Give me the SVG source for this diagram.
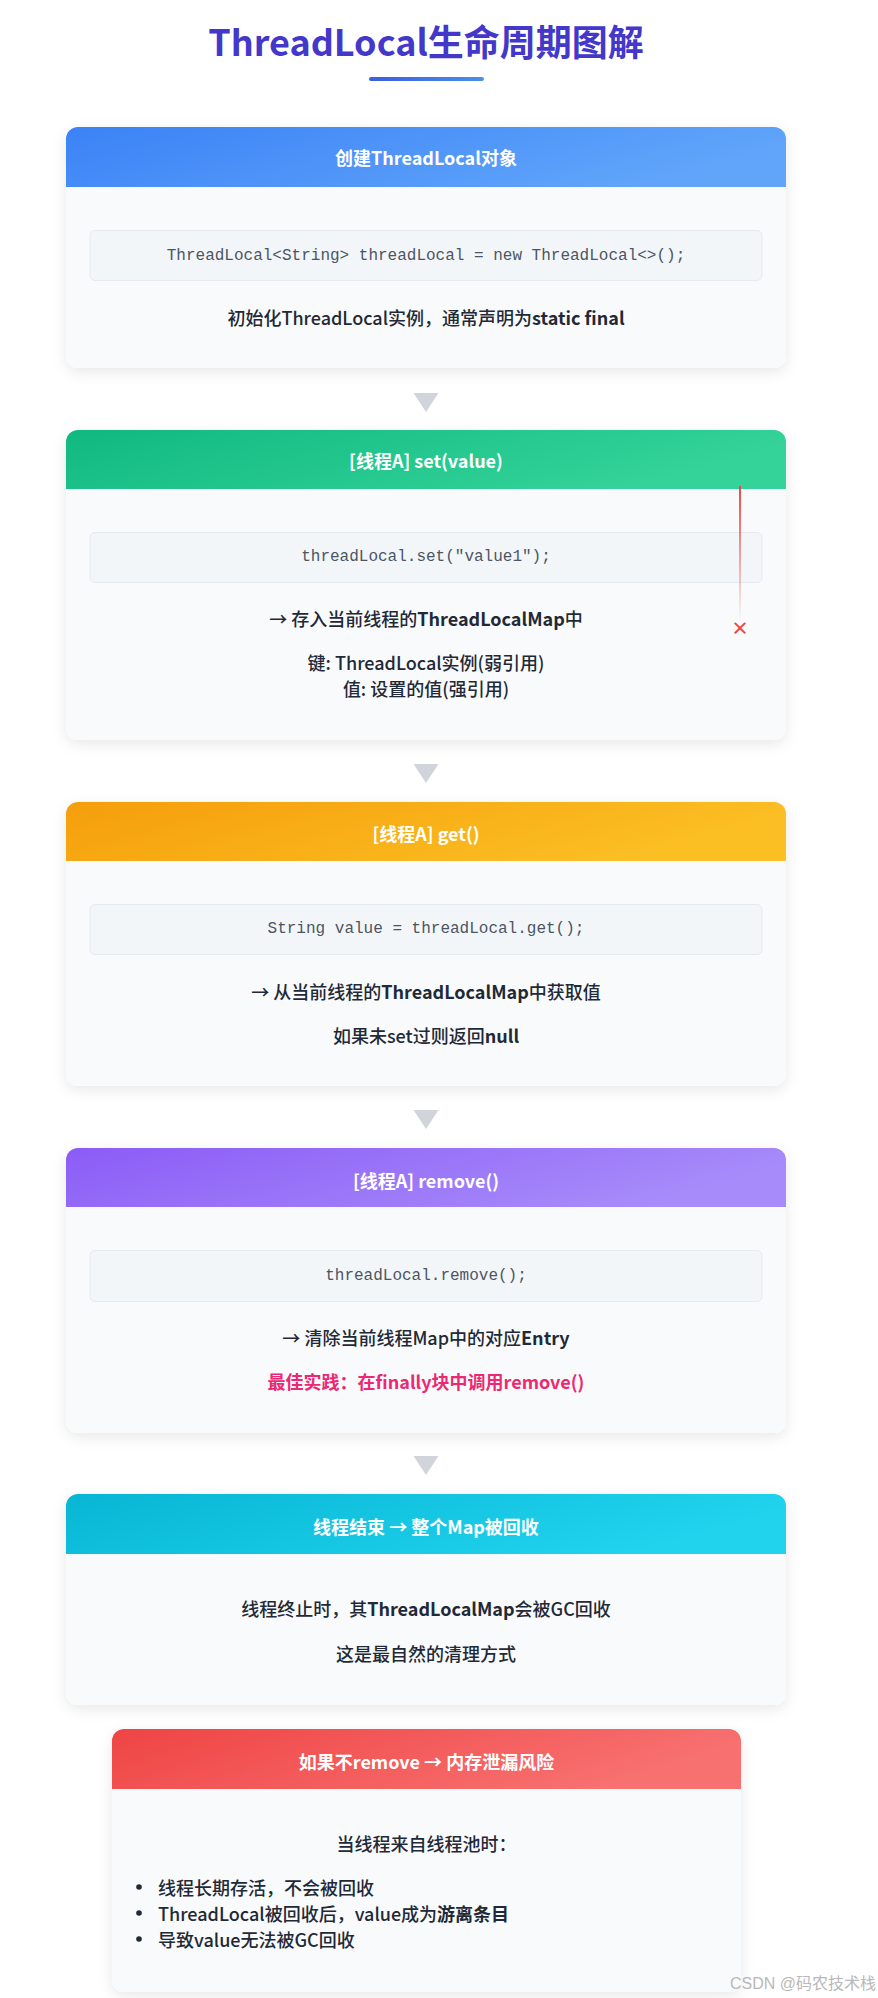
<svg xmlns="http://www.w3.org/2000/svg" width="878" height="1998" viewBox="0 0 878 1998">
<style>
.t{font-family:"Noto Sans CJK SC","Noto Sans",sans-serif;}
.title{font-size:36px;font-weight:700;fill:#4338ca;}
.hd{font-size:18px;font-weight:700;fill:#ffffff;}
.tx{font-size:18px;font-weight:500;fill:#1f2937;}
.b{font-weight:700;}
.code{font-family:"Liberation Mono","Courier New",monospace;font-size:16px;fill:#4b5563;}
.body{fill:#f9fafb;}
.cbox{fill:#f3f6f9;stroke:#e5eaf1;stroke-width:1;}
.arrow{fill:#d1d5db;}
.pink{fill:#ec2873;font-weight:700;}
.wm{font-family:"Liberation Sans","Noto Sans CJK SC",sans-serif;font-size:16px;fill:#b8b8b8;}
</style>
<defs>
<filter id="sh" x="-10%" y="-10%" width="120%" height="130%">
<feDropShadow dx="0" dy="4" stdDeviation="7" flood-color="#000000" flood-opacity="0.09"/>
</filter>
<linearGradient id="gTitle" x1="0" y1="0" x2="1" y2="0"><stop offset="0" stop-color="#3b5de0"/><stop offset="1" stop-color="#4a90e8"/></linearGradient>
<linearGradient id="g1" x1="0" y1="0" x2="1" y2="0.3"><stop offset="0" stop-color="#3b82f6"/><stop offset="1" stop-color="#60a5fa"/></linearGradient>
<linearGradient id="g2" x1="0" y1="0" x2="1" y2="0.3"><stop offset="0" stop-color="#10b981"/><stop offset="1" stop-color="#34d399"/></linearGradient>
<linearGradient id="g3" x1="0" y1="0" x2="1" y2="0.3"><stop offset="0" stop-color="#f59e0b"/><stop offset="1" stop-color="#fbbf24"/></linearGradient>
<linearGradient id="g4" x1="0" y1="0" x2="1" y2="0.3"><stop offset="0" stop-color="#8b5cf6"/><stop offset="1" stop-color="#a78bfa"/></linearGradient>
<linearGradient id="g5" x1="0" y1="0" x2="1" y2="0.3"><stop offset="0" stop-color="#06b6d4"/><stop offset="1" stop-color="#22d3ee"/></linearGradient>
<linearGradient id="g6" x1="0" y1="0" x2="1" y2="0.3"><stop offset="0" stop-color="#ef4444"/><stop offset="1" stop-color="#f87171"/></linearGradient>
<linearGradient id="gRed" x1="0" y1="0" x2="0" y2="1"><stop offset="0" stop-color="#ef4444"/><stop offset="1" stop-color="#ef4444" stop-opacity="0"/></linearGradient>
</defs>
<rect width="878" height="1998" fill="#ffffff"/>

<g id="title">
<text class="t title" x="426" y="56" text-anchor="middle">ThreadLocal生命周期图解</text>
<rect x="369" y="77" width="115" height="4" rx="2" fill="url(#gTitle)"/>
</g>

<g id="node-create">
<rect class="body" x="66" y="127" width="720" height="241" rx="12" filter="url(#sh)"/>
<path d="M66,187 V139 A12,12 0 0 1 78,127 H774 A12,12 0 0 1 786,139 V187 Z" fill="url(#g1)"/>
<text class="t hd" x="426" y="157" text-anchor="middle" dominant-baseline="central">创建ThreadLocal对象</text>
<rect class="cbox" x="90" y="230.5" width="672" height="50" rx="5"/>
<text class="code" x="426" y="256" text-anchor="middle" dominant-baseline="central">ThreadLocal&lt;String&gt; threadLocal = new ThreadLocal&lt;&gt;();</text>
<text class="t tx" x="426" y="317" text-anchor="middle" dominant-baseline="central">初始化ThreadLocal实例，通常声明为<tspan class="b">static final</tspan></text>
</g>

<g id="node-set">
<rect class="body" x="66" y="430" width="720" height="310" rx="12" filter="url(#sh)"/>
<path d="M66,489 V442 A12,12 0 0 1 78,430 H774 A12,12 0 0 1 786,442 V489 Z" fill="url(#g2)"/>
<text class="t hd" x="426" y="460" text-anchor="middle" dominant-baseline="central">[线程A] set(value)</text>
<rect class="cbox" x="90" y="532.5" width="672" height="50" rx="5"/>
<text class="code" x="426" y="557" text-anchor="middle" dominant-baseline="central">threadLocal.set("value1");</text>
<text class="t tx" x="426" y="618" text-anchor="middle" dominant-baseline="central">→ 存入当前线程的<tspan class="b">ThreadLocalMap</tspan>中</text>
<text class="t tx" x="426" y="662" text-anchor="middle" dominant-baseline="central">键: ThreadLocal实例(弱引用)</text>
<text class="t tx" x="426" y="688" text-anchor="middle" dominant-baseline="central">值: 设置的值(强引用)</text>
<rect x="739" y="486" width="2" height="136" fill="url(#gRed)"/>
<text class="t" x="740" y="627" text-anchor="middle" dominant-baseline="central" font-size="18" font-weight="700" fill="#ef4444">×</text>
</g>

<g id="node-get">
<rect class="body" x="66" y="802" width="720" height="284" rx="12" filter="url(#sh)"/>
<path d="M66,861 V814 A12,12 0 0 1 78,802 H774 A12,12 0 0 1 786,814 V861 Z" fill="url(#g3)"/>
<text class="t hd" x="426" y="833" text-anchor="middle" dominant-baseline="central">[线程A] get()</text>
<rect class="cbox" x="90" y="904.5" width="672" height="50" rx="5"/>
<text class="code" x="426" y="929" text-anchor="middle" dominant-baseline="central">String value = threadLocal.get();</text>
<text class="t tx" x="426" y="991" text-anchor="middle" dominant-baseline="central">→ 从当前线程的<tspan class="b">ThreadLocalMap</tspan>中获取值</text>
<text class="t tx" x="426" y="1035" text-anchor="middle" dominant-baseline="central">如果未set过则返回<tspan class="b">null</tspan></text>
</g>

<g id="node-remove">
<rect class="body" x="66" y="1148" width="720" height="285" rx="12" filter="url(#sh)"/>
<path d="M66,1207 V1160 A12,12 0 0 1 78,1148 H774 A12,12 0 0 1 786,1160 V1207 Z" fill="url(#g4)"/>
<text class="t hd" x="426" y="1180" text-anchor="middle" dominant-baseline="central">[线程A] remove()</text>
<rect class="cbox" x="90" y="1250.5" width="672" height="51" rx="5"/>
<text class="code" x="426" y="1276" text-anchor="middle" dominant-baseline="central">threadLocal.remove();</text>
<text class="t tx" x="426" y="1337" text-anchor="middle" dominant-baseline="central">→ 清除当前线程Map中的对应<tspan class="b">Entry</tspan></text>
<text class="t tx pink" x="426" y="1381" text-anchor="middle" dominant-baseline="central">最佳实践：在finally块中调用remove()</text>
</g>

<g id="node-end">
<rect class="body" x="66" y="1494" width="720" height="211" rx="12" filter="url(#sh)"/>
<path d="M66,1554 V1506 A12,12 0 0 1 78,1494 H774 A12,12 0 0 1 786,1506 V1554 Z" fill="url(#g5)"/>
<text class="t hd" x="426" y="1526" text-anchor="middle" dominant-baseline="central">线程结束 → 整个Map被回收</text>
<text class="t tx" x="426" y="1608" text-anchor="middle" dominant-baseline="central">线程终止时，其<tspan class="b">ThreadLocalMap</tspan>会被GC回收</text>
<text class="t tx" x="426" y="1653" text-anchor="middle" dominant-baseline="central">这是最自然的清理方式</text>
</g>

<g id="node-leak">
<rect class="body" x="112" y="1729" width="629" height="263" rx="12" filter="url(#sh)"/>
<path d="M112,1789 V1741 A12,12 0 0 1 124,1729 H729 A12,12 0 0 1 741,1741 V1789 Z" fill="url(#g6)"/>
<text class="t hd" x="426.5" y="1761" text-anchor="middle" dominant-baseline="central">如果不remove → 内存泄漏风险</text>
<text class="t tx" x="426.5" y="1843" text-anchor="middle" dominant-baseline="central">当线程来自线程池时：</text>
<circle cx="139" cy="1887" r="2.8" fill="#1f2937"/>
<circle cx="139" cy="1913" r="2.8" fill="#1f2937"/>
<circle cx="139" cy="1939" r="2.8" fill="#1f2937"/>
<text class="t tx" x="158" y="1887" dominant-baseline="central">线程长期存活，不会被回收</text>
<text class="t tx" x="158" y="1913" dominant-baseline="central">ThreadLocal被回收后，value成为<tspan class="b">游离条目</tspan></text>
<text class="t tx" x="158" y="1939" dominant-baseline="central">导致value无法被GC回收</text>
</g>

<g id="connectors">
<polygon class="arrow" points="413.5,393 438.5,393 426,412"/>
<polygon class="arrow" points="413.5,764 438.5,764 426,783"/>
<polygon class="arrow" points="413.5,1110 438.5,1110 426,1129"/>
<polygon class="arrow" points="413.5,1456 438.5,1456 426,1475"/>
</g>

<text class="wm" x="876" y="1989" text-anchor="end">CSDN @码农技术栈</text>
</svg>
